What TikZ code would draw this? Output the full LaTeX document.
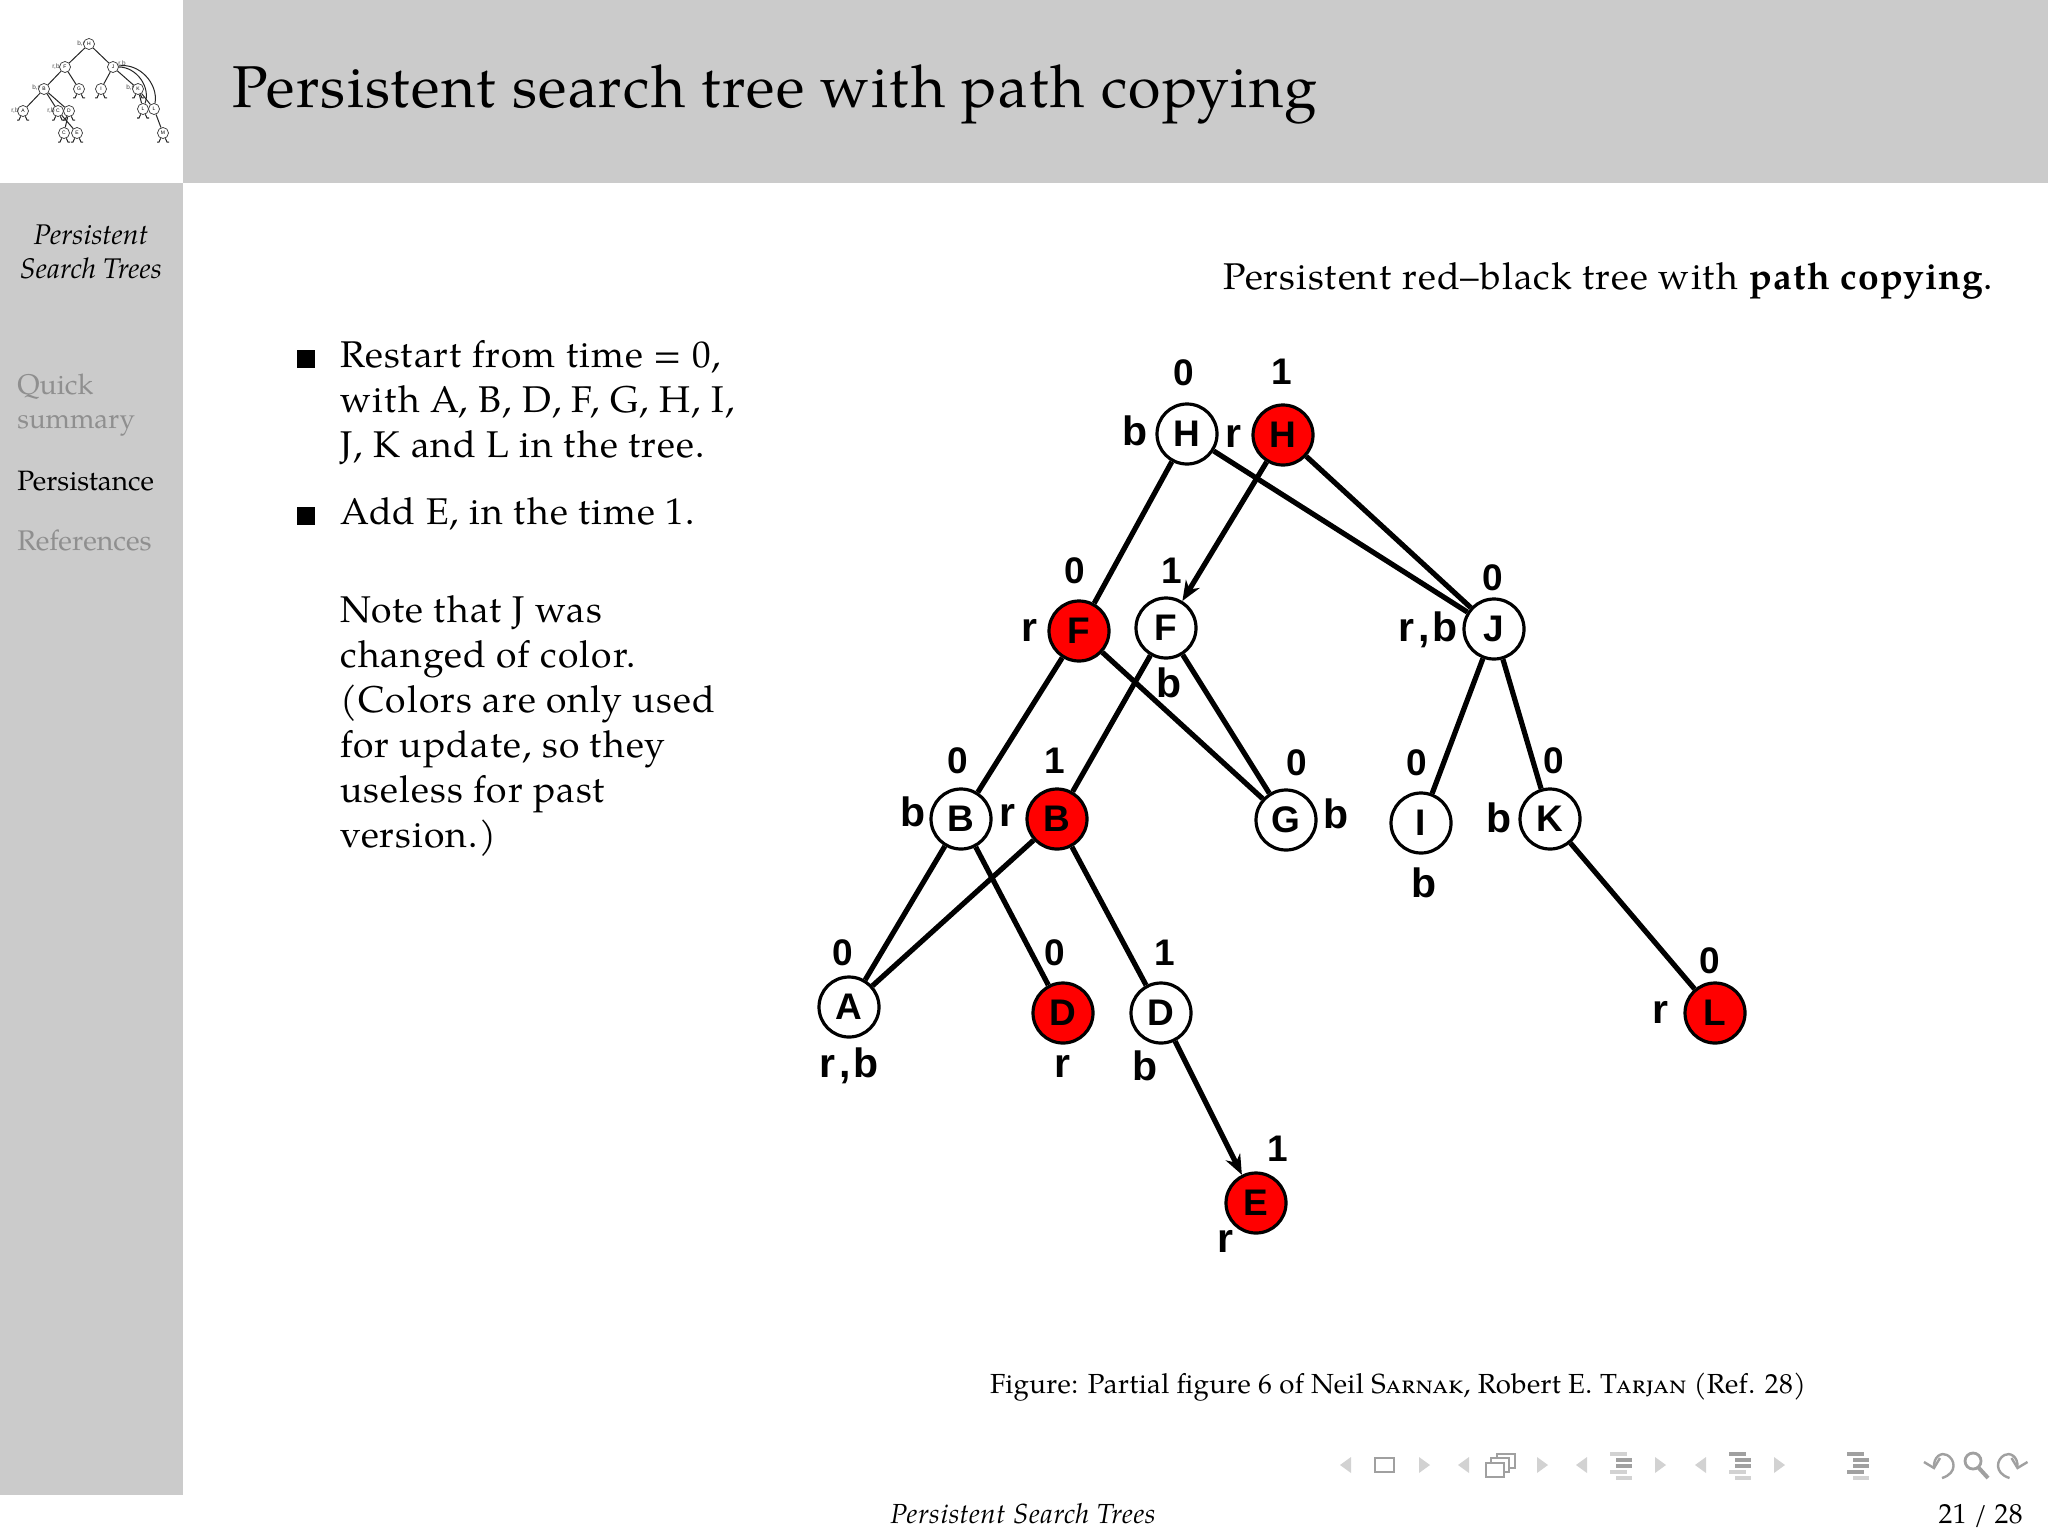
\documentclass[tikz,border=0pt]{standalone}
\usepackage{fontspec}
\setmainfont{TeX Gyre Pagella}
\newfontfamily\titlef[LetterSpace=2.3]{TeX Gyre Pagella}
\newfontfamily\bodyf[LetterSpace=3]{TeX Gyre Pagella}
\newfontfamily\capf[LetterSpace=1.4]{TeX Gyre Pagella}
\newfontfamily\footf[LetterSpace=2.4]{TeX Gyre Pagella}
\newfontfamily\sidef[LetterSpace=0.8]{TeX Gyre Pagella}
\newfontfamily\scanfont{Liberation Sans}
\newfontfamily\logofont{Liberation Sans}
\usetikzlibrary{arrows.meta}
\definecolor{barg}{HTML}{CBCBCB}
\definecolor{dimg}{HTML}{8F8F8F}
\definecolor{navd}{HTML}{A0A0A0}
\definecolor{navl}{HTML}{D2D2D2}
\tikzset{
 x=0.5pt,y=-0.5pt,
 title/.style={anchor=base west,inner sep=0,font=\titlef\fontsize{29.5}{30}\selectfont},
 body/.style={anchor=base west,inner sep=0,font=\bodyf\fontsize{18.6}{20}\selectfont},
 side/.style={anchor=base west,inner sep=0,font=\fontsize{14.2}{16}\selectfont},
 sidei/.style={anchor=base,inner sep=0,font=\sidef\itshape\fontsize{14.2}{16}\selectfont},
 foot/.style={inner sep=0,font=\capf\fontsize{13.8}{15}\selectfont},
 footi/.style={inner sep=0,anchor=base,font=\footf\itshape\fontsize{13.8}{15}\selectfont},
 tn/.style={circle,draw=black,line width=1.6pt,minimum size=30pt,inner sep=0,fill=white,font=\scanfont\bfseries\fontsize{18.5}{18}\selectfont},
 rn/.style={tn,fill=red},
 lb/.style={inner sep=0,font=\scanfont\bfseries\fontsize{18.5}{18}\selectfont},
 lt/.style={inner sep=0,font=\scanfont\bfseries\fontsize{20.5}{18}\selectfont},
 ed/.style={line width=2.6pt,black},
 arr/.style={ed,-{Stealth[length=10pt,width=8pt]}},
 ln/.style={circle,draw=black!80,line width=.35pt,minimum size=5.5pt,inner sep=0,fill=white,font=\logofont\fontsize{2.5}{3}\selectfont},
 ll/.style={inner sep=0,text=black!75,font=\logofont\fontsize{3.2}{3}\selectfont},
 le/.style={line width=.5pt,black!85},
 navf/.style={draw=none,fill=navl},
 navb/.style={draw=navd,line width=1.2pt,fill=white},
 navc/.style={draw=navd,line width=1.2pt,fill=none},
}
\newcommand{\lefttri}[1]{\path[navf] (#1,1465)--(#1+11,1457)--(#1+11,1473)--cycle;}
\newcommand{\righttri}[1]{\path[navf] (#1+11,1465)--(#1,1457)--(#1,1473)--cycle;}
\newcommand{\navbar}[5]{%
 \fill[#2] (#1,1452) rectangle +(17,3.5);
 \fill[#3] (#1+6,1458) rectangle +(16,3.5);
 \fill[#4] (#1+6,1464) rectangle +(16,3.5);
 \fill[#5] (#1,1470) rectangle +(17,3.5);
 \fill[navl] (#1+6,1476) rectangle +(16,3.5);}
\newcommand{\stubs}[1]{\draw[le] (#1) -- ++(-4,9) -- ++(-2,0) (#1) -- ++(4,9) -- ++(2,0);}
\begin{document}
\begin{tikzpicture}
\useasboundingbox (0,0) rectangle (2048,1536);
\fill[white] (0,0) rectangle (2048,1536);
\fill[barg] (183,0) rectangle (2048,183);
\fill[barg] (0,183) rectangle (183,1495);

% logo
\node[ln] (lH) at (89,44) {H};
\node[ln] (lF) at (65,67) {F};
\node[ln] (lJ) at (113,67) {J};
\node[ln] (lB) at (44,89) {B};
\node[ln] (lG) at (79,89) {G};
\node[ln] (lI) at (101,89) {I};
\node[ln] (lK) at (138,89) {K};
\node[ln] (lA) at (23,111) {A};
\node[ln] (lC) at (58,111) {C};
\node[ln] (lD) at (69,111) {D};
\node[ln] (lL) at (143,109) {L};
\node[ln] (lN) at (154,109) {L};
\node[ln] (lc) at (64,133) {C};
\node[ln] (lE) at (77,133) {E};
\node[ln] (lM) at (163,133) {M};
\draw[le] (lH)--(lF) (lH)--(lJ) (lF)--(lB) (lF)--(lG) (lJ)--(lI) (lJ)--(lK) (lB)--(lA) (lB)--(lC) (lB)--(lD)
 (lC)--(lE) (lD)--(lc) (lK)--(lL) (lK)--(lN) (lN)--(lM);
\draw[le] (lJ) to[out=10,in=80] (lN);
\draw[le] (lJ) to[out=0,in=70] (lL);
\stubs{lG}\stubs{lI}\stubs{lK}\stubs{lA}\stubs{lC}\stubs{lD}\stubs{lL}\stubs{lc}\stubs{lE}\stubs{lM}
\node[ll] (t1) at (81,44) {b,r};
\node[ll] (t2) at (56,67) {r,b};
\node[ll] (t3) at (122,64) {r,b};
\node[ll] (t4) at (36,88) {b,r};
\node[ll] (t5) at (15,111) {r,b};
\node[ll] (t6) at (51,111) {r,b};
\node[ll] (t7) at (130,88) {b,r};

% titles and side bar
\node[title] (ttl) at (232,108) {Persistent search tree with path copying};
\node[sidei] (s1) at (91,244) {Persistent};
\node[sidei] (s2) at (91,278) {Search Trees};
\node[side,text=dimg] (s3) at (17,394) {Quick};
\node[side,text=dimg,font=\fontsize{13.8}{16}\selectfont] (s4) at (17,428) {summary};
\node[side,font=\fontsize{14}{16}\selectfont] (s5) at (17,490) {Persistance};
\node[side,text=dimg] (s6) at (17,550) {References};

\node[body,anchor=base east] (cap) at (1993,289) {Persistent red–black tree with \textbf{path copying}.};

\fill[black] (297,350) rectangle (315,368);
\node[body] (b1) at (340,367) {Restart from time = 0,};
\node[body] (b2) at (340,412) {with A, B, D, F, G, H, I,};
\node[body] (b3) at (340,457) {J, K and L in the tree.};
\fill[black] (297,507) rectangle (315,525);
\node[body] (b4) at (340,524) {Add E, in the time 1.};
\node[body] (n1) at (340,622) {Note that J was};
\node[body] (n2) at (340,667) {changed of color.};
\node[body] (n3) at (340,712) {(Colors are only used};
\node[body] (n4) at (340,757) {for update, so they};
\node[body] (n5) at (340,802) {useless for past};
\node[body] (n6) at (340,847) {version.)};

% tree
\node[tn] (H0) at (1187,434) {H};
\node[rn] (H1) at (1283,435) {H};
\node[rn] (F0) at (1079,631) {F};
\node[tn] (F1) at (1166,628) {F};
\node[tn] (J) at (1494,629) {J};
\node[tn] (B0) at (961,819) {B};
\node[rn] (B1) at (1057,819) {B};
\node[tn] (G) at (1286,820) {G};
\node[tn] (I) at (1421,823) {I};
\node[tn] (K) at (1550,819) {K};
\node[tn] (A) at (849,1007) {A};
\node[rn] (D0) at (1063,1013) {D};
\node[tn] (D1) at (1161,1013) {D};
\node[rn] (L) at (1715,1013) {L};
\node[rn] (E) at (1256,1203) {E};

\draw[ed] (H0)--(F0);
\draw[ed] (H0)--(J);
\draw[arr] (H1)--(F1);
\draw[ed] (H1)--(J);
\draw[ed] (F0)--(B0);
\draw[ed] (F0)--(G);
\draw[ed] (F1)--(B1);
\draw[ed] (F1)--(G);
\draw[ed] (J)--(I);
\draw[ed] (J)--(K);
\draw[ed] (B0)--(A);
\draw[ed] (B0)--(D0);
\draw[ed] (B1)--(A);
\draw[ed] (B1)--(D1);
\draw[arr] (D1)--(E);
\draw[ed] (K)--(L);

\node[lb] (a1) at (1184,373) {0};
\node[lt] (a2) at (1135,431) {b};
\node[lt] (a3) at (1233,436) {r};
\node[lb] (a4) at (1282,372) {1};
\node[lb] (a5) at (1172,571) {1};
\node[lt] (a6) at (1169,683) {b};
\node[lb] (a7) at (1493,578) {0};
\node[lt] (a8) at (1428,630) {r\hspace{2pt},\hspace{1pt}b};
\node[lb] (a9) at (1075,571) {0};
\node[lt] (a10) at (1029,630) {r};
\node[lb] (a11) at (958,761) {0};
\node[lt] (a12) at (913,812) {b};
\node[lt] (a13) at (1007,815) {r};
\node[lb] (a14) at (1055,761) {1};
\node[lb] (a15) at (1297,763) {0};
\node[lt] (a16) at (1336,814) {b};
\node[lb] (a17) at (1417,763) {0};
\node[lt] (a18) at (1424,883) {b};
\node[lb] (a19) at (1554,761) {0};
\node[lt] (a20) at (1499,818) {b};
\node[lb] (a21) at (1710,961) {0};
\node[lt] (a22) at (1660,1012) {r};
\node[lb] (a23) at (843,953) {0};
\node[lt] (a24) at (849,1066) {r\hspace{2pt},\hspace{1pt}b};
\node[lb] (a25) at (1055,953) {0};
\node[lt] (a26) at (1062,1066) {r};
\node[lb] (a27) at (1165,953) {1};
\node[lt] (a28) at (1145,1066) {b};
\node[lb] (a29) at (1278,1149) {1};
\node[lt] (a30) at (1225,1241) {r};

\node[foot,anchor=base] (fig) at (1398,1393) {Figure: Partial figure 6 of Neil \textsc{Sarnak}, Robert E. \textsc{Tarjan} (Ref. 28)};

% navigation symbols
\lefttri{1340}
\draw[navc] (1375,1458) rectangle (1394,1472);
\righttri{1419}
\lefttri{1458}
\draw[navb] (1497,1454) rectangle (1515,1468);
\draw[navb] (1491,1458) rectangle (1509,1472);
\draw[navb] (1486,1463) rectangle (1504,1477);
\righttri{1537}
\lefttri{1576}
\navbar{1610}{navl}{navd}{navd}{navl}
\righttri{1655}
\lefttri{1695}
\navbar{1729}{navd}{navd}{navd}{navl}
\righttri{1774}
\navbar{1847}{navd}{navd}{navd}{navd}
\draw[navc] (1934,1468) .. controls (1933,1456) and (1942,1452) .. (1947,1455) .. controls (1955,1459) and (1958,1473) .. (1942,1478);
\draw[navc] (1924,1462) -- (1934,1468) -- (1940,1458);
\draw[navc,line width=1.4pt] (1973,1461) circle (8);
\draw[navc,line width=2pt] (1978,1467) -- (1988,1478);
\draw[navc] (2017.5,1468) .. controls (2018.5,1456) and (2009.5,1452) .. (2004.5,1455) .. controls (1996.5,1459) and (1993.5,1473) .. (2009.5,1478);
\draw[navc] (2027.5,1462) -- (2017.5,1468) -- (2011.5,1458);

\node[footi] (ft) at (1023,1523) {Persistent Search Trees};
\node[foot,anchor=base east] (pg) at (2023,1523) {21 / 28};
\end{tikzpicture}
\end{document}
